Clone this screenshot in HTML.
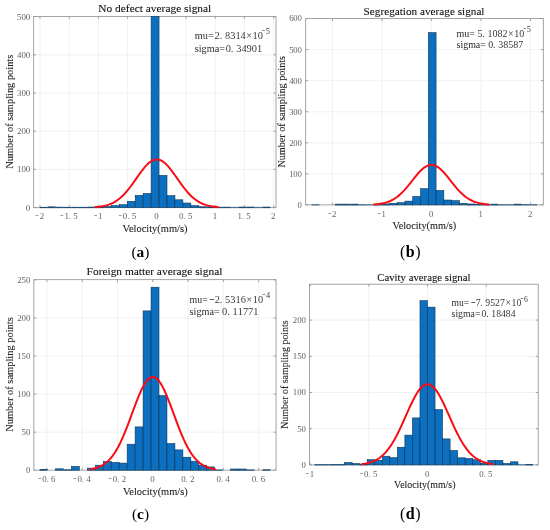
<!DOCTYPE html>
<html><head><meta charset="utf-8"><title>Figure</title>
<style>
html,body{margin:0;padding:0;background:#fff;}
body{width:550px;height:530px;overflow:hidden;}
svg{display:block;font-family:'Liberation Serif', serif;}
</style></head><body>
<svg width="550" height="530" viewBox="0 0 550 530">
<rect width="550" height="530" fill="#fff"/>
<g><line x1="40.00" y1="16.50" x2="40.00" y2="207.60" stroke="#eeeeee" stroke-width="0.8"/>
<line x1="69.20" y1="16.50" x2="69.20" y2="207.60" stroke="#eeeeee" stroke-width="0.8"/>
<line x1="98.40" y1="16.50" x2="98.40" y2="207.60" stroke="#eeeeee" stroke-width="0.8"/>
<line x1="127.60" y1="16.50" x2="127.60" y2="207.60" stroke="#eeeeee" stroke-width="0.8"/>
<line x1="156.80" y1="16.50" x2="156.80" y2="207.60" stroke="#eeeeee" stroke-width="0.8"/>
<line x1="186.00" y1="16.50" x2="186.00" y2="207.60" stroke="#eeeeee" stroke-width="0.8"/>
<line x1="215.20" y1="16.50" x2="215.20" y2="207.60" stroke="#eeeeee" stroke-width="0.8"/>
<line x1="244.40" y1="16.50" x2="244.40" y2="207.60" stroke="#eeeeee" stroke-width="0.8"/>
<line x1="273.60" y1="16.50" x2="273.60" y2="207.60" stroke="#eeeeee" stroke-width="0.8"/>
<line x1="33.60" y1="169.40" x2="275.90" y2="169.40" stroke="#eeeeee" stroke-width="0.8"/>
<line x1="33.60" y1="131.20" x2="275.90" y2="131.20" stroke="#eeeeee" stroke-width="0.8"/>
<line x1="33.60" y1="93.00" x2="275.90" y2="93.00" stroke="#eeeeee" stroke-width="0.8"/>
<line x1="33.60" y1="54.80" x2="275.90" y2="54.80" stroke="#eeeeee" stroke-width="0.8"/>
<path d="M275.90 16.50H33.60V207.60H275.90" fill="none" stroke="#8e8e8e" stroke-width="0.8"/>
<line x1="276.00" y1="16.10" x2="276.00" y2="208.00" stroke="#c0c0c0" stroke-width="1.45"/>
<path d="M40.00 207.60v-2.40M40.00 16.50v2.40" stroke="#8e8e8e" stroke-width="0.8"/>
<text x="35.34" y="218.40" font-size="8.90" fill="#646464" textLength="3.56" lengthAdjust="spacingAndGlyphs">-</text><text x="41.93" y="219.20" font-size="8.90" fill="#646464" text-anchor="middle">2</text>
<path d="M69.20 207.60v-2.40M69.20 16.50v2.40" stroke="#8e8e8e" stroke-width="0.8"/>
<text x="60.09" y="218.40" font-size="8.90" fill="#646464" textLength="3.56" lengthAdjust="spacingAndGlyphs">-</text><text x="66.68 69.88 75.58" y="219.20" font-size="8.90" fill="#646464" text-anchor="middle">1.5</text>
<path d="M98.40 207.60v-2.40M98.40 16.50v2.40" stroke="#8e8e8e" stroke-width="0.8"/>
<text x="93.74" y="218.40" font-size="8.90" fill="#646464" textLength="3.56" lengthAdjust="spacingAndGlyphs">-</text><text x="100.33" y="219.20" font-size="8.90" fill="#646464" text-anchor="middle">1</text>
<path d="M127.60 207.60v-2.40M127.60 16.50v2.40" stroke="#8e8e8e" stroke-width="0.8"/>
<text x="118.49" y="218.40" font-size="8.90" fill="#646464" textLength="3.56" lengthAdjust="spacingAndGlyphs">-</text><text x="125.08 128.28 133.97" y="219.20" font-size="8.90" fill="#646464" text-anchor="middle">0.5</text>
<path d="M156.80 207.60v-2.40M156.80 16.50v2.40" stroke="#8e8e8e" stroke-width="0.8"/>
<text x="156.50" y="219.20" font-size="8.90" fill="#646464" text-anchor="middle">0</text>
<path d="M186.00 207.60v-2.40M186.00 16.50v2.40" stroke="#8e8e8e" stroke-width="0.8"/>
<text x="181.25 184.45 190.15" y="219.20" font-size="8.90" fill="#646464" text-anchor="middle">0.5</text>
<path d="M215.20 207.60v-2.40M215.20 16.50v2.40" stroke="#8e8e8e" stroke-width="0.8"/>
<text x="214.90" y="219.20" font-size="8.90" fill="#646464" text-anchor="middle">1</text>
<path d="M244.40 207.60v-2.40M244.40 16.50v2.40" stroke="#8e8e8e" stroke-width="0.8"/>
<text x="239.65 242.85 248.55" y="219.20" font-size="8.90" fill="#646464" text-anchor="middle">1.5</text>
<path d="M273.60 207.60v-2.40M273.60 16.50v2.40" stroke="#8e8e8e" stroke-width="0.8"/>
<text x="273.30" y="219.20" font-size="8.90" fill="#646464" text-anchor="middle">2</text>
<path d="M33.60 207.60h2.40M275.90 207.60h-2.40" stroke="#8e8e8e" stroke-width="0.8"/>
<text x="28.08" y="210.54" font-size="8.90" fill="#646464" text-anchor="middle">0</text>
<path d="M33.60 169.40h2.40M275.90 169.40h-2.40" stroke="#8e8e8e" stroke-width="0.8"/>
<text x="19.18 23.62 28.07" y="172.34" font-size="8.90" fill="#646464" text-anchor="middle">100</text>
<path d="M33.60 131.20h2.40M275.90 131.20h-2.40" stroke="#8e8e8e" stroke-width="0.8"/>
<text x="19.18 23.62 28.07" y="134.14" font-size="8.90" fill="#646464" text-anchor="middle">200</text>
<path d="M33.60 93.00h2.40M275.90 93.00h-2.40" stroke="#8e8e8e" stroke-width="0.8"/>
<text x="19.18 23.62 28.07" y="95.94" font-size="8.90" fill="#646464" text-anchor="middle">300</text>
<path d="M33.60 54.80h2.40M275.90 54.80h-2.40" stroke="#8e8e8e" stroke-width="0.8"/>
<text x="19.18 23.62 28.07" y="57.74" font-size="8.90" fill="#646464" text-anchor="middle">400</text>
<path d="M33.60 16.60h2.40M275.90 16.60h-2.40" stroke="#8e8e8e" stroke-width="0.8"/>
<text x="19.18 23.62 28.07" y="19.54" font-size="8.90" fill="#646464" text-anchor="middle">500</text>
<rect x="39.80" y="206.90" width="7.95" height="1.20" fill="#1d4b75" fill-opacity="1.00"/>
<rect x="47.75" y="206.40" width="7.95" height="1.70" fill="#1d4b75" fill-opacity="1.00"/>
<rect x="55.70" y="206.80" width="7.95" height="1.30" fill="#1d4b75" fill-opacity="1.00"/>
<rect x="63.65" y="206.90" width="7.95" height="1.20" fill="#1d4b75" fill-opacity="1.00"/>
<rect x="71.60" y="206.90" width="7.95" height="1.20" fill="#1d4b75" fill-opacity="1.00"/>
<rect x="79.55" y="206.90" width="7.95" height="1.20" fill="#1d4b75" fill-opacity="1.00"/>
<rect x="87.50" y="206.70" width="7.95" height="1.40" fill="#1d4b75" fill-opacity="1.00"/>
<rect x="95.45" y="206.50" width="7.95" height="1.60" fill="#1d4b75" fill-opacity="1.00"/>
<rect x="103.40" y="206.40" width="7.95" height="1.20" fill="#0d6fbf" stroke="#0a2f4f" stroke-width="0.55"/>
<rect x="111.35" y="205.60" width="7.95" height="2.00" fill="#0d6fbf" stroke="#0a2f4f" stroke-width="0.55"/>
<rect x="119.30" y="204.70" width="7.95" height="2.90" fill="#0d6fbf" stroke="#0a2f4f" stroke-width="0.55"/>
<rect x="127.25" y="201.30" width="7.95" height="6.30" fill="#0d6fbf" stroke="#0a2f4f" stroke-width="0.55"/>
<rect x="135.20" y="195.40" width="7.95" height="12.20" fill="#0d6fbf" stroke="#0a2f4f" stroke-width="0.55"/>
<rect x="143.15" y="193.50" width="7.95" height="14.10" fill="#0d6fbf" stroke="#0a2f4f" stroke-width="0.55"/>
<rect x="151.10" y="16.50" width="7.95" height="191.10" fill="#0d6fbf" stroke="#0a2f4f" stroke-width="0.55"/>
<rect x="159.05" y="175.40" width="7.95" height="32.20" fill="#0d6fbf" stroke="#0a2f4f" stroke-width="0.55"/>
<rect x="167.00" y="195.60" width="7.95" height="12.00" fill="#0d6fbf" stroke="#0a2f4f" stroke-width="0.55"/>
<rect x="174.95" y="199.80" width="7.95" height="7.80" fill="#0d6fbf" stroke="#0a2f4f" stroke-width="0.55"/>
<rect x="182.90" y="203.00" width="7.95" height="4.60" fill="#0d6fbf" stroke="#0a2f4f" stroke-width="0.55"/>
<rect x="190.85" y="205.60" width="7.95" height="2.00" fill="#0d6fbf" stroke="#0a2f4f" stroke-width="0.55"/>
<rect x="198.80" y="206.30" width="7.95" height="1.80" fill="#1d4b75" fill-opacity="1.00"/>
<rect x="206.75" y="206.50" width="7.95" height="1.60" fill="#1d4b75" fill-opacity="1.00"/>
<rect x="214.70" y="206.80" width="7.95" height="1.30" fill="#1d4b75" fill-opacity="1.00"/>
<rect x="222.65" y="206.80" width="7.95" height="1.30" fill="#1d4b75" fill-opacity="1.00"/>
<rect x="230.60" y="206.90" width="7.95" height="1.20" fill="#1d4b75" fill-opacity="0.65"/>
<rect x="238.55" y="206.70" width="7.95" height="1.40" fill="#1d4b75" fill-opacity="1.00"/>
<rect x="246.50" y="206.70" width="7.95" height="1.40" fill="#1d4b75" fill-opacity="1.00"/>
<rect x="254.45" y="206.90" width="7.95" height="1.20" fill="#1d4b75" fill-opacity="0.65"/>
<rect x="262.40" y="206.70" width="7.95" height="1.40" fill="#1d4b75" fill-opacity="1.00"/>
<polyline points="95.66,207.07 97.18,206.93 98.71,206.77 100.24,206.58 101.77,206.34 103.30,206.06 104.83,205.74 106.36,205.35 107.88,204.90 109.41,204.37 110.94,203.77 112.47,203.08 114.00,202.29 115.53,201.41 117.06,200.41 118.58,199.30 120.11,198.07 121.64,196.73 123.17,195.26 124.70,193.68 126.23,191.97 127.76,190.16 129.28,188.25 130.81,186.25 132.34,184.17 133.87,182.04 135.40,179.86 136.93,177.68 138.46,175.50 139.99,173.35 141.51,171.27 143.04,169.27 144.57,167.40 146.10,165.66 147.63,164.10 149.16,162.74 150.69,161.59 152.21,160.67 153.74,160.01 155.27,159.60 156.80,159.47 158.33,159.60 159.86,160.01 161.39,160.67 162.91,161.59 164.44,162.74 165.97,164.10 167.50,165.66 169.03,167.40 170.56,169.27 172.09,171.27 173.61,173.35 175.14,175.50 176.67,177.68 178.20,179.86 179.73,182.04 181.26,184.17 182.79,186.25 184.32,188.25 185.84,190.16 187.37,191.97 188.90,193.68 190.43,195.26 191.96,196.73 193.49,198.07 195.02,199.30 196.54,200.41 198.07,201.41 199.60,202.29 201.13,203.08 202.66,203.77 204.19,204.37 205.72,204.90 207.24,205.35 208.77,205.74 210.30,206.06 211.83,206.34 213.36,206.58 214.89,206.77 216.42,206.93 217.94,207.07" fill="none" stroke="#f80d16" stroke-width="2.0" stroke-linejoin="round" stroke-linecap="round"/>
<text x="98.30" y="12.30" font-size="11.30" fill="#111" stroke="#111" stroke-width="0.1" textLength="113.00" lengthAdjust="spacingAndGlyphs">No defect average signal</text>
<text x="122.50" y="231.70" font-size="10.20" fill="#262626" stroke="#262626" stroke-width="0.1" textLength="65.00" lengthAdjust="spacingAndGlyphs">Velocity(mm/s)</text>
<text transform="translate(12.80 111.70) rotate(-90)" x="-57.00" y="0" font-size="10.20" fill="#262626" stroke="#262626" stroke-width="0.1" textLength="114.00" lengthAdjust="spacingAndGlyphs">Number of sampling points</text>
<text x="194.80" y="39.00" font-size="10.40" fill="#2a2a2a" textLength="19.00" lengthAdjust="spacingAndGlyphs">mu=</text>
<text x="217.20 220.94 227.60 232.80 238.00 243.20" y="39.00" font-size="10.40" fill="#3a3a3a" text-anchor="middle">2.8314</text>
<text x="249.20" y="39.00" font-size="10.40" fill="#3a3a3a" text-anchor="middle">×</text>
<text x="255.20 260.40" y="39.00" font-size="10.40" fill="#3a3a3a" text-anchor="middle">10</text>
<text x="262.08" y="33.15" font-size="8.32" fill="#3a3a3a" textLength="3.13" lengthAdjust="spacingAndGlyphs">-</text><text x="267.87" y="33.90" font-size="8.32" fill="#3a3a3a" text-anchor="middle">5</text>
<text x="194.80" y="51.80" font-size="10.40" fill="#2a2a2a" textLength="30.20" lengthAdjust="spacingAndGlyphs">sigma=</text>
<text x="228.40 232.14 238.80 244.00 249.20 254.40 259.60" y="51.80" font-size="10.40" fill="#3a3a3a" text-anchor="middle">0.34901</text></g>
<g><line x1="332.40" y1="18.60" x2="332.40" y2="204.90" stroke="#eeeeee" stroke-width="0.8"/>
<line x1="381.90" y1="18.60" x2="381.90" y2="204.90" stroke="#eeeeee" stroke-width="0.8"/>
<line x1="431.40" y1="18.60" x2="431.40" y2="204.90" stroke="#eeeeee" stroke-width="0.8"/>
<line x1="480.90" y1="18.60" x2="480.90" y2="204.90" stroke="#eeeeee" stroke-width="0.8"/>
<line x1="530.40" y1="18.60" x2="530.40" y2="204.90" stroke="#eeeeee" stroke-width="0.8"/>
<line x1="305.70" y1="173.85" x2="543.30" y2="173.85" stroke="#eeeeee" stroke-width="0.8"/>
<line x1="305.70" y1="142.80" x2="543.30" y2="142.80" stroke="#eeeeee" stroke-width="0.8"/>
<line x1="305.70" y1="111.75" x2="543.30" y2="111.75" stroke="#eeeeee" stroke-width="0.8"/>
<line x1="305.70" y1="80.70" x2="543.30" y2="80.70" stroke="#eeeeee" stroke-width="0.8"/>
<line x1="305.70" y1="49.65" x2="543.30" y2="49.65" stroke="#eeeeee" stroke-width="0.8"/>
<rect x="305.70" y="18.60" width="237.60" height="186.30" fill="none" stroke="#8e8e8e" stroke-width="0.8"/>
<path d="M332.40 204.90v-2.40M332.40 18.60v2.40" stroke="#8e8e8e" stroke-width="0.8"/>
<text x="328.03" y="216.22" font-size="8.70" fill="#646464" textLength="3.32" lengthAdjust="spacingAndGlyphs">-</text><text x="334.18" y="217.00" font-size="8.70" fill="#646464" text-anchor="middle">2</text>
<path d="M381.90 204.90v-2.40M381.90 18.60v2.40" stroke="#8e8e8e" stroke-width="0.8"/>
<text x="377.53" y="216.22" font-size="8.70" fill="#646464" textLength="3.32" lengthAdjust="spacingAndGlyphs">-</text><text x="383.68" y="217.00" font-size="8.70" fill="#646464" text-anchor="middle">1</text>
<path d="M431.40 204.90v-2.40M431.40 18.60v2.40" stroke="#8e8e8e" stroke-width="0.8"/>
<text x="431.10" y="217.00" font-size="8.70" fill="#646464" text-anchor="middle">0</text>
<path d="M480.90 204.90v-2.40M480.90 18.60v2.40" stroke="#8e8e8e" stroke-width="0.8"/>
<text x="480.60" y="217.00" font-size="8.70" fill="#646464" text-anchor="middle">1</text>
<path d="M530.40 204.90v-2.40M530.40 18.60v2.40" stroke="#8e8e8e" stroke-width="0.8"/>
<text x="530.10" y="217.00" font-size="8.70" fill="#646464" text-anchor="middle">2</text>
<path d="M305.70 204.90h2.40M543.30 204.90h-2.40" stroke="#8e8e8e" stroke-width="0.8"/>
<text x="299.62" y="207.77" font-size="8.70" fill="#646464" text-anchor="middle">0</text>
<path d="M305.70 173.85h2.40M543.30 173.85h-2.40" stroke="#8e8e8e" stroke-width="0.8"/>
<text x="291.32 295.48 299.62" y="176.72" font-size="8.70" fill="#646464" text-anchor="middle">100</text>
<path d="M305.70 142.80h2.40M543.30 142.80h-2.40" stroke="#8e8e8e" stroke-width="0.8"/>
<text x="291.32 295.48 299.62" y="145.67" font-size="8.70" fill="#646464" text-anchor="middle">200</text>
<path d="M305.70 111.75h2.40M543.30 111.75h-2.40" stroke="#8e8e8e" stroke-width="0.8"/>
<text x="291.32 295.48 299.62" y="114.62" font-size="8.70" fill="#646464" text-anchor="middle">300</text>
<path d="M305.70 80.70h2.40M543.30 80.70h-2.40" stroke="#8e8e8e" stroke-width="0.8"/>
<text x="291.32 295.48 299.62" y="83.57" font-size="8.70" fill="#646464" text-anchor="middle">400</text>
<path d="M305.70 49.65h2.40M543.30 49.65h-2.40" stroke="#8e8e8e" stroke-width="0.8"/>
<text x="291.32 295.48 299.62" y="52.52" font-size="8.70" fill="#646464" text-anchor="middle">500</text>
<path d="M305.70 18.60h2.40M543.30 18.60h-2.40" stroke="#8e8e8e" stroke-width="0.8"/>
<text x="291.32 295.48 299.62" y="21.47" font-size="8.70" fill="#646464" text-anchor="middle">600</text>
<rect x="311.60" y="204.20" width="7.78" height="1.20" fill="#1d4b75" fill-opacity="0.77"/>
<rect x="334.94" y="203.80" width="7.78" height="1.60" fill="#1d4b75" fill-opacity="1.00"/>
<rect x="342.72" y="203.80" width="7.78" height="1.60" fill="#1d4b75" fill-opacity="1.00"/>
<rect x="350.50" y="203.80" width="7.78" height="1.60" fill="#1d4b75" fill-opacity="1.00"/>
<rect x="358.28" y="204.20" width="7.78" height="1.20" fill="#1d4b75" fill-opacity="0.77"/>
<rect x="366.06" y="204.20" width="7.78" height="1.20" fill="#1d4b75" fill-opacity="0.65"/>
<rect x="373.84" y="204.10" width="7.78" height="1.30" fill="#1d4b75" fill-opacity="1.00"/>
<rect x="381.62" y="203.60" width="7.78" height="1.80" fill="#1d4b75" fill-opacity="1.00"/>
<rect x="389.40" y="203.30" width="7.78" height="1.60" fill="#0d6fbf" stroke="#0a2f4f" stroke-width="0.55"/>
<rect x="397.18" y="202.70" width="7.78" height="2.20" fill="#0d6fbf" stroke="#0a2f4f" stroke-width="0.55"/>
<rect x="404.96" y="201.10" width="7.78" height="3.80" fill="#0d6fbf" stroke="#0a2f4f" stroke-width="0.55"/>
<rect x="412.74" y="196.50" width="7.78" height="8.40" fill="#0d6fbf" stroke="#0a2f4f" stroke-width="0.55"/>
<rect x="420.52" y="188.70" width="7.78" height="16.20" fill="#0d6fbf" stroke="#0a2f4f" stroke-width="0.55"/>
<rect x="428.30" y="32.60" width="7.78" height="172.30" fill="#0d6fbf" stroke="#0a2f4f" stroke-width="0.55"/>
<rect x="436.08" y="190.40" width="7.78" height="14.50" fill="#0d6fbf" stroke="#0a2f4f" stroke-width="0.55"/>
<rect x="443.86" y="200.00" width="7.78" height="4.90" fill="#0d6fbf" stroke="#0a2f4f" stroke-width="0.55"/>
<rect x="451.64" y="200.70" width="7.78" height="4.20" fill="#0d6fbf" stroke="#0a2f4f" stroke-width="0.55"/>
<rect x="459.42" y="203.40" width="7.78" height="1.50" fill="#0d6fbf" stroke="#0a2f4f" stroke-width="0.55"/>
<rect x="467.20" y="203.60" width="7.78" height="1.80" fill="#1d4b75" fill-opacity="1.00"/>
<rect x="474.98" y="204.00" width="7.78" height="1.40" fill="#1d4b75" fill-opacity="1.00"/>
<rect x="482.76" y="204.20" width="7.78" height="1.20" fill="#1d4b75" fill-opacity="1.00"/>
<rect x="490.54" y="203.80" width="7.78" height="1.60" fill="#1d4b75" fill-opacity="1.00"/>
<rect x="498.32" y="204.20" width="7.78" height="1.20" fill="#1d4b75" fill-opacity="0.77"/>
<rect x="506.10" y="204.20" width="7.78" height="1.20" fill="#1d4b75" fill-opacity="0.77"/>
<rect x="513.88" y="203.80" width="7.78" height="1.60" fill="#1d4b75" fill-opacity="1.00"/>
<rect x="521.66" y="204.20" width="7.78" height="1.20" fill="#1d4b75" fill-opacity="0.90"/>
<rect x="529.44" y="204.20" width="7.78" height="1.20" fill="#1d4b75" fill-opacity="0.77"/>
<polyline points="374.08,204.46 375.51,204.34 376.95,204.21 378.38,204.05 379.81,203.85 381.24,203.62 382.68,203.35 384.11,203.03 385.54,202.65 386.98,202.22 388.41,201.71 389.84,201.14 391.28,200.48 392.71,199.75 394.14,198.92 395.57,197.99 397.01,196.97 398.44,195.85 399.87,194.63 401.31,193.31 402.74,191.90 404.17,190.39 405.61,188.80 407.04,187.13 408.47,185.40 409.90,183.63 411.34,181.82 412.77,180.00 414.20,178.18 415.64,176.40 417.07,174.67 418.50,173.01 419.94,171.44 421.37,170.00 422.80,168.70 424.23,167.57 425.67,166.61 427.10,165.85 428.53,165.29 429.97,164.96 431.40,164.85 432.83,164.96 434.27,165.29 435.70,165.85 437.13,166.61 438.57,167.57 440.00,168.70 441.43,170.00 442.86,171.44 444.30,173.01 445.73,174.67 447.16,176.40 448.60,178.18 450.03,180.00 451.46,181.82 452.90,183.63 454.33,185.40 455.76,187.13 457.19,188.80 458.63,190.39 460.06,191.90 461.49,193.31 462.93,194.63 464.36,195.85 465.79,196.97 467.23,197.99 468.66,198.92 470.09,199.75 471.52,200.48 472.96,201.14 474.39,201.71 475.82,202.22 477.26,202.65 478.69,203.03 480.12,203.35 481.56,203.62 482.99,203.85 484.42,204.05 485.85,204.21 487.29,204.34 488.72,204.46" fill="none" stroke="#f80d16" stroke-width="2.0" stroke-linejoin="round" stroke-linecap="round"/>
<text x="363.60" y="14.90" font-size="11.30" fill="#111" stroke="#111" stroke-width="0.1" textLength="120.90" lengthAdjust="spacingAndGlyphs">Segregation average signal</text>
<text x="392.40" y="228.80" font-size="10.00" fill="#262626" stroke="#262626" stroke-width="0.1" textLength="63.80" lengthAdjust="spacingAndGlyphs">Velocity(mm/s)</text>
<text transform="translate(284.70 111.80) rotate(-90)" x="-55.80" y="0" font-size="9.90" fill="#262626" stroke="#262626" stroke-width="0.1" textLength="111.60" lengthAdjust="spacingAndGlyphs">Number of sampling points</text>
<text x="456.60" y="37.10" font-size="10.00" fill="#2a2a2a" textLength="18.40" lengthAdjust="spacingAndGlyphs">mu=</text>
<text x="479.90 483.50 489.90 494.90 499.90 504.90" y="37.10" font-size="10.00" fill="#3a3a3a" text-anchor="middle">5.1082</text>
<text x="510.80" y="37.10" font-size="10.00" fill="#3a3a3a" text-anchor="middle">×</text>
<text x="516.70 521.70" y="37.10" font-size="10.00" fill="#3a3a3a" text-anchor="middle">10</text>
<text x="523.28" y="31.28" font-size="8.00" fill="#3a3a3a" textLength="3.01" lengthAdjust="spacingAndGlyphs">-</text><text x="528.84" y="32.00" font-size="8.00" fill="#3a3a3a" text-anchor="middle">5</text>
<text x="456.60" y="48.20" font-size="10.00" fill="#2a2a2a" textLength="29.20" lengthAdjust="spacingAndGlyphs">sigma=</text>
<text x="490.70 494.30 500.70 505.70 510.70 515.70 520.70" y="48.20" font-size="10.00" fill="#3a3a3a" text-anchor="middle">0.38587</text></g>
<g><line x1="46.90" y1="279.60" x2="46.90" y2="470.20" stroke="#eeeeee" stroke-width="0.8"/>
<line x1="82.20" y1="279.60" x2="82.20" y2="470.20" stroke="#eeeeee" stroke-width="0.8"/>
<line x1="117.50" y1="279.60" x2="117.50" y2="470.20" stroke="#eeeeee" stroke-width="0.8"/>
<line x1="152.80" y1="279.60" x2="152.80" y2="470.20" stroke="#eeeeee" stroke-width="0.8"/>
<line x1="188.10" y1="279.60" x2="188.10" y2="470.20" stroke="#eeeeee" stroke-width="0.8"/>
<line x1="223.40" y1="279.60" x2="223.40" y2="470.20" stroke="#eeeeee" stroke-width="0.8"/>
<line x1="258.70" y1="279.60" x2="258.70" y2="470.20" stroke="#eeeeee" stroke-width="0.8"/>
<line x1="33.80" y1="432.15" x2="276.00" y2="432.15" stroke="#eeeeee" stroke-width="0.8"/>
<line x1="33.80" y1="394.10" x2="276.00" y2="394.10" stroke="#eeeeee" stroke-width="0.8"/>
<line x1="33.80" y1="356.05" x2="276.00" y2="356.05" stroke="#eeeeee" stroke-width="0.8"/>
<line x1="33.80" y1="318.00" x2="276.00" y2="318.00" stroke="#eeeeee" stroke-width="0.8"/>
<path d="M276.00 279.60H33.80V470.20H276.00" fill="none" stroke="#8e8e8e" stroke-width="0.8"/>
<line x1="276.10" y1="279.20" x2="276.10" y2="470.60" stroke="#c0c0c0" stroke-width="1.45"/>
<path d="M46.90 470.20v-2.40M46.90 279.60v2.40" stroke="#8e8e8e" stroke-width="0.8"/>
<text x="37.79" y="481.10" font-size="8.90" fill="#646464" textLength="3.56" lengthAdjust="spacingAndGlyphs">-</text><text x="44.38 47.58 53.28" y="481.90" font-size="8.90" fill="#646464" text-anchor="middle">0.6</text>
<path d="M82.20 470.20v-2.40M82.20 279.60v2.40" stroke="#8e8e8e" stroke-width="0.8"/>
<text x="73.09" y="481.10" font-size="8.90" fill="#646464" textLength="3.56" lengthAdjust="spacingAndGlyphs">-</text><text x="79.67 82.88 88.58" y="481.90" font-size="8.90" fill="#646464" text-anchor="middle">0.4</text>
<path d="M117.50 470.20v-2.40M117.50 279.60v2.40" stroke="#8e8e8e" stroke-width="0.8"/>
<text x="108.39" y="481.10" font-size="8.90" fill="#646464" textLength="3.56" lengthAdjust="spacingAndGlyphs">-</text><text x="114.97 118.18 123.88" y="481.90" font-size="8.90" fill="#646464" text-anchor="middle">0.2</text>
<path d="M152.80 470.20v-2.40M152.80 279.60v2.40" stroke="#8e8e8e" stroke-width="0.8"/>
<text x="152.50" y="481.90" font-size="8.90" fill="#646464" text-anchor="middle">0</text>
<path d="M188.10 470.20v-2.40M188.10 279.60v2.40" stroke="#8e8e8e" stroke-width="0.8"/>
<text x="183.35 186.55 192.25" y="481.90" font-size="8.90" fill="#646464" text-anchor="middle">0.2</text>
<path d="M223.40 470.20v-2.40M223.40 279.60v2.40" stroke="#8e8e8e" stroke-width="0.8"/>
<text x="218.65 221.85 227.55" y="481.90" font-size="8.90" fill="#646464" text-anchor="middle">0.4</text>
<path d="M258.70 470.20v-2.40M258.70 279.60v2.40" stroke="#8e8e8e" stroke-width="0.8"/>
<text x="253.95 257.15 262.85" y="481.90" font-size="8.90" fill="#646464" text-anchor="middle">0.6</text>
<path d="M33.80 470.20h2.40M276.00 470.20h-2.40" stroke="#8e8e8e" stroke-width="0.8"/>
<text x="28.27" y="473.14" font-size="8.90" fill="#646464" text-anchor="middle">0</text>
<path d="M33.80 432.15h2.40M276.00 432.15h-2.40" stroke="#8e8e8e" stroke-width="0.8"/>
<text x="23.82 28.27" y="435.09" font-size="8.90" fill="#646464" text-anchor="middle">50</text>
<path d="M33.80 394.10h2.40M276.00 394.10h-2.40" stroke="#8e8e8e" stroke-width="0.8"/>
<text x="19.37 23.82 28.27" y="397.04" font-size="8.90" fill="#646464" text-anchor="middle">100</text>
<path d="M33.80 356.05h2.40M276.00 356.05h-2.40" stroke="#8e8e8e" stroke-width="0.8"/>
<text x="19.37 23.82 28.27" y="358.99" font-size="8.90" fill="#646464" text-anchor="middle">150</text>
<path d="M33.80 318.00h2.40M276.00 318.00h-2.40" stroke="#8e8e8e" stroke-width="0.8"/>
<text x="19.37 23.82 28.27" y="320.94" font-size="8.90" fill="#646464" text-anchor="middle">200</text>
<path d="M33.80 279.95h2.40M276.00 279.95h-2.40" stroke="#8e8e8e" stroke-width="0.8"/>
<text x="19.37 23.82 28.27" y="282.89" font-size="8.90" fill="#646464" text-anchor="middle">250</text>
<rect x="39.60" y="469.00" width="7.96" height="1.70" fill="#1d4b75" fill-opacity="1.00"/>
<rect x="55.52" y="468.80" width="7.96" height="1.40" fill="#0d6fbf" stroke="#0a2f4f" stroke-width="0.55"/>
<rect x="63.48" y="469.30" width="7.96" height="1.40" fill="#1d4b75" fill-opacity="1.00"/>
<rect x="71.44" y="466.40" width="7.96" height="3.80" fill="#0d6fbf" stroke="#0a2f4f" stroke-width="0.55"/>
<rect x="87.36" y="468.10" width="7.96" height="2.10" fill="#0d6fbf" stroke="#0a2f4f" stroke-width="0.55"/>
<rect x="95.32" y="465.20" width="7.96" height="5.00" fill="#0d6fbf" stroke="#0a2f4f" stroke-width="0.55"/>
<rect x="103.28" y="461.50" width="7.96" height="8.70" fill="#0d6fbf" stroke="#0a2f4f" stroke-width="0.55"/>
<rect x="111.24" y="462.40" width="7.96" height="7.80" fill="#0d6fbf" stroke="#0a2f4f" stroke-width="0.55"/>
<rect x="119.20" y="463.10" width="7.96" height="7.10" fill="#0d6fbf" stroke="#0a2f4f" stroke-width="0.55"/>
<rect x="127.16" y="444.20" width="7.96" height="26.00" fill="#0d6fbf" stroke="#0a2f4f" stroke-width="0.55"/>
<rect x="135.12" y="426.90" width="7.96" height="43.30" fill="#0d6fbf" stroke="#0a2f4f" stroke-width="0.55"/>
<rect x="143.08" y="310.90" width="7.96" height="159.30" fill="#0d6fbf" stroke="#0a2f4f" stroke-width="0.55"/>
<rect x="151.04" y="287.20" width="7.96" height="183.00" fill="#0d6fbf" stroke="#0a2f4f" stroke-width="0.55"/>
<rect x="159.00" y="395.60" width="7.96" height="74.60" fill="#0d6fbf" stroke="#0a2f4f" stroke-width="0.55"/>
<rect x="166.96" y="443.50" width="7.96" height="26.70" fill="#0d6fbf" stroke="#0a2f4f" stroke-width="0.55"/>
<rect x="174.92" y="449.90" width="7.96" height="20.30" fill="#0d6fbf" stroke="#0a2f4f" stroke-width="0.55"/>
<rect x="182.88" y="457.20" width="7.96" height="13.00" fill="#0d6fbf" stroke="#0a2f4f" stroke-width="0.55"/>
<rect x="190.84" y="461.20" width="7.96" height="9.00" fill="#0d6fbf" stroke="#0a2f4f" stroke-width="0.55"/>
<rect x="198.80" y="465.20" width="7.96" height="5.00" fill="#0d6fbf" stroke="#0a2f4f" stroke-width="0.55"/>
<rect x="206.76" y="466.90" width="7.96" height="3.30" fill="#0d6fbf" stroke="#0a2f4f" stroke-width="0.55"/>
<rect x="214.72" y="469.50" width="7.96" height="1.20" fill="#1d4b75" fill-opacity="1.00"/>
<rect x="230.64" y="469.00" width="7.96" height="1.20" fill="#0d6fbf" stroke="#0a2f4f" stroke-width="0.55"/>
<rect x="238.60" y="469.00" width="7.96" height="1.20" fill="#0d6fbf" stroke="#0a2f4f" stroke-width="0.55"/>
<rect x="246.56" y="469.50" width="7.96" height="1.20" fill="#1d4b75" fill-opacity="1.00"/>
<rect x="262.48" y="469.30" width="7.96" height="1.40" fill="#1d4b75" fill-opacity="1.00"/>
<polyline points="90.48,469.16 92.04,468.91 93.59,468.59 95.15,468.22 96.71,467.76 98.27,467.22 99.83,466.59 101.38,465.84 102.94,464.96 104.50,463.95 106.06,462.78 107.62,461.44 109.17,459.91 110.73,458.19 112.29,456.26 113.85,454.11 115.41,451.74 116.96,449.13 118.52,446.28 120.08,443.21 121.64,439.91 123.20,436.40 124.76,432.69 126.31,428.81 127.87,424.79 129.43,420.65 130.99,416.44 132.55,412.20 134.10,407.97 135.66,403.81 137.22,399.77 138.78,395.91 140.34,392.27 141.89,388.91 143.45,385.89 145.01,383.24 146.57,381.01 148.13,379.23 149.68,377.95 151.24,377.16 152.80,376.90 154.36,377.16 155.92,377.95 157.47,379.23 159.03,381.01 160.59,383.24 162.15,385.89 163.71,388.91 165.26,392.27 166.82,395.91 168.38,399.77 169.94,403.81 171.50,407.97 173.05,412.20 174.61,416.44 176.17,420.65 177.73,424.79 179.29,428.81 180.84,432.69 182.40,436.40 183.96,439.91 185.52,443.21 187.08,446.28 188.64,449.13 190.19,451.74 191.75,454.11 193.31,456.26 194.87,458.19 196.43,459.91 197.98,461.44 199.54,462.78 201.10,463.95 202.66,464.96 204.22,465.84 205.77,466.59 207.33,467.22 208.89,467.76 210.45,468.22 212.01,468.59 213.56,468.91 215.12,469.16" fill="none" stroke="#f80d16" stroke-width="2.0" stroke-linejoin="round" stroke-linecap="round"/>
<text x="86.60" y="275.20" font-size="11.30" fill="#111" stroke="#111" stroke-width="0.1" textLength="135.80" lengthAdjust="spacingAndGlyphs">Foreign matter average signal</text>
<text x="122.90" y="494.60" font-size="10.20" fill="#262626" stroke="#262626" stroke-width="0.1" textLength="64.90" lengthAdjust="spacingAndGlyphs">Velocity(mm/s)</text>
<text transform="translate(12.80 374.50) rotate(-90)" x="-57.30" y="0" font-size="10.20" fill="#262626" stroke="#262626" stroke-width="0.1" textLength="114.60" lengthAdjust="spacingAndGlyphs">Number of sampling points</text>
<text x="189.60" y="303.30" font-size="10.40" fill="#2a2a2a" textLength="18.10" lengthAdjust="spacingAndGlyphs">mu=</text>
<text x="209.08" y="302.36" font-size="10.40" fill="#3a3a3a" textLength="5.82" lengthAdjust="spacingAndGlyphs">-</text><text x="217.30 221.04 227.70 232.90 238.10 243.30" y="303.30" font-size="10.40" fill="#3a3a3a" text-anchor="middle">2.5316</text>
<text x="249.30" y="303.30" font-size="10.40" fill="#3a3a3a" text-anchor="middle">×</text>
<text x="255.30 260.50" y="303.30" font-size="10.40" fill="#3a3a3a" text-anchor="middle">10</text>
<text x="262.18" y="297.45" font-size="8.32" fill="#3a3a3a" textLength="3.13" lengthAdjust="spacingAndGlyphs">-</text><text x="267.97" y="298.20" font-size="8.32" fill="#3a3a3a" text-anchor="middle">4</text>
<text x="189.60" y="315.40" font-size="10.40" fill="#2a2a2a" textLength="30.10" lengthAdjust="spacingAndGlyphs">sigma=</text>
<text x="224.70 228.44 235.10 240.30 245.50 250.70 255.90" y="315.40" font-size="10.40" fill="#3a3a3a" text-anchor="middle">0.11771</text></g>
<g><line x1="368.80" y1="284.20" x2="368.80" y2="464.90" stroke="#eeeeee" stroke-width="0.8"/>
<line x1="427.50" y1="284.20" x2="427.50" y2="464.90" stroke="#eeeeee" stroke-width="0.8"/>
<line x1="486.20" y1="284.20" x2="486.20" y2="464.90" stroke="#eeeeee" stroke-width="0.8"/>
<line x1="309.60" y1="428.70" x2="538.20" y2="428.70" stroke="#eeeeee" stroke-width="0.8"/>
<line x1="309.60" y1="392.50" x2="538.20" y2="392.50" stroke="#eeeeee" stroke-width="0.8"/>
<line x1="309.60" y1="356.30" x2="538.20" y2="356.30" stroke="#eeeeee" stroke-width="0.8"/>
<line x1="309.60" y1="320.10" x2="538.20" y2="320.10" stroke="#eeeeee" stroke-width="0.8"/>
<rect x="309.60" y="284.20" width="228.60" height="180.70" fill="none" stroke="#8e8e8e" stroke-width="0.8"/>
<path d="M310.10 464.90v-2.40M310.10 284.20v2.40" stroke="#8e8e8e" stroke-width="0.8"/>
<text x="305.49" y="476.41" font-size="8.80" fill="#646464" textLength="3.52" lengthAdjust="spacingAndGlyphs">-</text><text x="312.00" y="477.20" font-size="8.80" fill="#646464" text-anchor="middle">1</text>
<path d="M368.80 464.90v-2.40M368.80 284.20v2.40" stroke="#8e8e8e" stroke-width="0.8"/>
<text x="359.79" y="476.41" font-size="8.80" fill="#646464" textLength="3.52" lengthAdjust="spacingAndGlyphs">-</text><text x="366.30 369.47 375.10" y="477.20" font-size="8.80" fill="#646464" text-anchor="middle">0.5</text>
<path d="M427.50 464.90v-2.40M427.50 284.20v2.40" stroke="#8e8e8e" stroke-width="0.8"/>
<text x="427.20" y="477.20" font-size="8.80" fill="#646464" text-anchor="middle">0</text>
<path d="M486.20 464.90v-2.40M486.20 284.20v2.40" stroke="#8e8e8e" stroke-width="0.8"/>
<text x="481.50 484.67 490.30" y="477.20" font-size="8.80" fill="#646464" text-anchor="middle">0.5</text>
<path d="M309.60 464.90h2.40M538.20 464.90h-2.40" stroke="#8e8e8e" stroke-width="0.8"/>
<text x="303.80" y="467.80" font-size="8.80" fill="#646464" text-anchor="middle">0</text>
<path d="M309.60 428.70h2.40M538.20 428.70h-2.40" stroke="#8e8e8e" stroke-width="0.8"/>
<text x="299.40 303.80" y="431.60" font-size="8.80" fill="#646464" text-anchor="middle">50</text>
<path d="M309.60 392.50h2.40M538.20 392.50h-2.40" stroke="#8e8e8e" stroke-width="0.8"/>
<text x="295.00 299.40 303.80" y="395.40" font-size="8.80" fill="#646464" text-anchor="middle">100</text>
<path d="M309.60 356.30h2.40M538.20 356.30h-2.40" stroke="#8e8e8e" stroke-width="0.8"/>
<text x="295.00 299.40 303.80" y="359.20" font-size="8.80" fill="#646464" text-anchor="middle">150</text>
<path d="M309.60 320.10h2.40M538.20 320.10h-2.40" stroke="#8e8e8e" stroke-width="0.8"/>
<text x="295.00 299.40 303.80" y="323.00" font-size="8.80" fill="#646464" text-anchor="middle">200</text>
<rect x="314.40" y="464.20" width="7.54" height="1.20" fill="#1d4b75" fill-opacity="1.00"/>
<rect x="321.94" y="464.20" width="7.54" height="1.20" fill="#1d4b75" fill-opacity="1.00"/>
<rect x="329.48" y="464.10" width="7.54" height="1.30" fill="#1d4b75" fill-opacity="1.00"/>
<rect x="337.02" y="464.10" width="7.54" height="1.30" fill="#1d4b75" fill-opacity="1.00"/>
<rect x="344.56" y="462.50" width="7.54" height="2.40" fill="#0d6fbf" stroke="#0a2f4f" stroke-width="0.55"/>
<rect x="352.10" y="463.50" width="7.54" height="1.40" fill="#0d6fbf" stroke="#0a2f4f" stroke-width="0.55"/>
<rect x="359.64" y="463.70" width="7.54" height="1.70" fill="#1d4b75" fill-opacity="1.00"/>
<rect x="367.18" y="459.70" width="7.54" height="5.20" fill="#0d6fbf" stroke="#0a2f4f" stroke-width="0.55"/>
<rect x="374.72" y="460.20" width="7.54" height="4.70" fill="#0d6fbf" stroke="#0a2f4f" stroke-width="0.55"/>
<rect x="382.26" y="456.20" width="7.54" height="8.70" fill="#0d6fbf" stroke="#0a2f4f" stroke-width="0.55"/>
<rect x="389.80" y="457.60" width="7.54" height="7.30" fill="#0d6fbf" stroke="#0a2f4f" stroke-width="0.55"/>
<rect x="397.34" y="447.20" width="7.54" height="17.70" fill="#0d6fbf" stroke="#0a2f4f" stroke-width="0.55"/>
<rect x="404.88" y="435.10" width="7.54" height="29.80" fill="#0d6fbf" stroke="#0a2f4f" stroke-width="0.55"/>
<rect x="412.42" y="417.90" width="7.54" height="47.00" fill="#0d6fbf" stroke="#0a2f4f" stroke-width="0.55"/>
<rect x="419.96" y="300.70" width="7.54" height="164.20" fill="#0d6fbf" stroke="#0a2f4f" stroke-width="0.55"/>
<rect x="427.50" y="307.10" width="7.54" height="157.80" fill="#0d6fbf" stroke="#0a2f4f" stroke-width="0.55"/>
<rect x="435.04" y="409.60" width="7.54" height="55.30" fill="#0d6fbf" stroke="#0a2f4f" stroke-width="0.55"/>
<rect x="442.58" y="438.90" width="7.54" height="26.00" fill="#0d6fbf" stroke="#0a2f4f" stroke-width="0.55"/>
<rect x="450.12" y="450.50" width="7.54" height="14.40" fill="#0d6fbf" stroke="#0a2f4f" stroke-width="0.55"/>
<rect x="457.66" y="457.80" width="7.54" height="7.10" fill="#0d6fbf" stroke="#0a2f4f" stroke-width="0.55"/>
<rect x="465.20" y="458.50" width="7.54" height="6.40" fill="#0d6fbf" stroke="#0a2f4f" stroke-width="0.55"/>
<rect x="472.74" y="459.70" width="7.54" height="5.20" fill="#0d6fbf" stroke="#0a2f4f" stroke-width="0.55"/>
<rect x="480.28" y="463.20" width="7.54" height="1.70" fill="#0d6fbf" stroke="#0a2f4f" stroke-width="0.55"/>
<rect x="487.82" y="460.40" width="7.54" height="4.50" fill="#0d6fbf" stroke="#0a2f4f" stroke-width="0.55"/>
<rect x="495.36" y="460.40" width="7.54" height="4.50" fill="#0d6fbf" stroke="#0a2f4f" stroke-width="0.55"/>
<rect x="502.90" y="463.50" width="7.54" height="1.40" fill="#0d6fbf" stroke="#0a2f4f" stroke-width="0.55"/>
<rect x="510.44" y="461.80" width="7.54" height="3.10" fill="#0d6fbf" stroke="#0a2f4f" stroke-width="0.55"/>
<rect x="517.98" y="464.20" width="7.54" height="1.20" fill="#1d4b75" fill-opacity="0.65"/>
<rect x="525.52" y="464.00" width="7.54" height="1.40" fill="#1d4b75" fill-opacity="1.00"/>
<polyline points="362.41,464.00 364.04,463.78 365.67,463.51 367.29,463.18 368.92,462.79 370.55,462.33 372.18,461.77 373.80,461.13 375.43,460.37 377.06,459.49 378.69,458.48 380.31,457.32 381.94,456.00 383.57,454.51 385.19,452.84 386.82,450.98 388.45,448.92 390.08,446.67 391.70,444.21 393.33,441.55 394.96,438.69 396.58,435.65 398.21,432.45 399.84,429.09 401.47,425.61 403.09,422.03 404.72,418.38 406.35,414.71 407.97,411.06 409.60,407.46 411.23,403.96 412.86,400.62 414.48,397.47 416.11,394.57 417.74,391.95 419.36,389.66 420.99,387.73 422.62,386.19 424.25,385.08 425.87,384.40 427.50,384.17 429.13,384.40 430.75,385.08 432.38,386.19 434.01,387.73 435.64,389.66 437.26,391.95 438.89,394.57 440.52,397.47 442.14,400.62 443.77,403.96 445.40,407.46 447.03,411.06 448.65,414.71 450.28,418.38 451.91,422.03 453.53,425.61 455.16,429.09 456.79,432.45 458.42,435.65 460.04,438.69 461.67,441.55 463.30,444.21 464.92,446.67 466.55,448.92 468.18,450.98 469.81,452.84 471.43,454.51 473.06,456.00 474.69,457.32 476.31,458.48 477.94,459.49 479.57,460.37 481.20,461.13 482.82,461.77 484.45,462.33 486.08,462.79 487.71,463.18 489.33,463.51 490.96,463.78 492.59,464.00" fill="none" stroke="#f80d16" stroke-width="2.0" stroke-linejoin="round" stroke-linecap="round"/>
<text x="377.30" y="280.60" font-size="11.00" fill="#111" stroke="#111" stroke-width="0.1" textLength="93.20" lengthAdjust="spacingAndGlyphs">Cavity average signal</text>
<text x="394.10" y="488.20" font-size="10.00" fill="#262626" stroke="#262626" stroke-width="0.1" textLength="61.40" lengthAdjust="spacingAndGlyphs">Velocity(mm/s)</text>
<text transform="translate(288.40 374.60) rotate(-90)" x="-54.20" y="0" font-size="9.60" fill="#262626" stroke="#262626" stroke-width="0.1" textLength="108.40" lengthAdjust="spacingAndGlyphs">Number of sampling points</text>
<text x="451.60" y="305.80" font-size="9.70" fill="#2a2a2a" textLength="17.60" lengthAdjust="spacingAndGlyphs">mu=</text>
<text x="470.41" y="304.93" font-size="9.70" fill="#3a3a3a" textLength="5.43" lengthAdjust="spacingAndGlyphs">-</text><text x="478.08 481.57 487.78 492.63 497.48 502.33" y="305.80" font-size="9.70" fill="#3a3a3a" text-anchor="middle">7.9527</text>
<text x="508.15" y="305.80" font-size="9.70" fill="#3a3a3a" text-anchor="middle">×</text>
<text x="513.98 518.83" y="305.80" font-size="9.70" fill="#3a3a3a" text-anchor="middle">10</text>
<text x="520.62" y="301.10" font-size="7.76" fill="#3a3a3a" textLength="2.92" lengthAdjust="spacingAndGlyphs">-</text><text x="526.02" y="301.80" font-size="7.76" fill="#3a3a3a" text-anchor="middle">6</text>
<text x="451.60" y="317.30" font-size="9.70" fill="#2a2a2a" textLength="28.80" lengthAdjust="spacingAndGlyphs">sigma=</text>
<text x="484.03 487.52 493.73 498.58 503.43 508.28 513.12" y="317.30" font-size="9.70" fill="#3a3a3a" text-anchor="middle">0.18484</text></g>

<text x="140.40" y="256.50" font-size="15.4" letter-spacing="0.0" fill="#000" text-anchor="middle">(<tspan font-weight="bold">a</tspan>)</text>
<text x="410.50" y="256.50" font-size="16.0" letter-spacing="0.4" fill="#000" text-anchor="middle">(<tspan font-weight="bold">b</tspan>)</text>
<text x="140.50" y="519.20" font-size="15.4" letter-spacing="0.0" fill="#000" text-anchor="middle">(<tspan font-weight="bold">c</tspan>)</text>
<text x="410.50" y="519.40" font-size="16.0" letter-spacing="0.4" fill="#000" text-anchor="middle">(<tspan font-weight="bold">d</tspan>)</text>
</svg>
</body></html>
